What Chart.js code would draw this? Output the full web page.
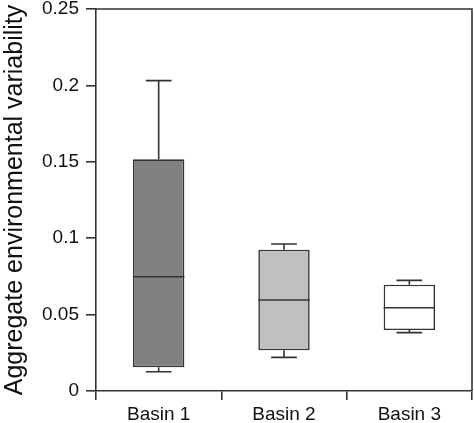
<!DOCTYPE html>
<html>
<head>
<meta charset="utf-8">
<script src="https://cdn.jsdelivr.net/npm/chart.js@4"></script>
<style>
  html, body { margin: 0; padding: 0; background: #fff; }
  #wrap { width: 474px; height: 423px; }
</style>
</head>
<body>
<div id="wrap"><canvas id="boxChart" width="474" height="423"></canvas></div>
<script>
// Datos del diagrama de caja
const categories = ["Basin 1", "Basin 2", "Basin 3"];
const whiskerLow = [0.0126, 0.0220, 0.0382];
const q1 = [0.0155, 0.0266, 0.0399];
const median = [0.0748, 0.0596, 0.0545];
const q3 = [0.1516, 0.0925, 0.0696];
const whiskerHigh = [0.2031, 0.0962, 0.0724];
const boxColors = ["#808080", "#c0c0c0", "#ffffff"];
const yTickLabels = ["0", "0.05", "0.1", "0.15", "0.2", "0.25"];

const lineColor = "#333333";

// Dibuja bigotes, medianas y el marco superior/derecho
const boxPlotPlugin = {
    id: "boxPlot",
    afterDatasetsDraw(chart) {
        const ctx = chart.ctx;
        const yScale = chart.scales.y;
        const bars = chart.getDatasetMeta(0).data;
        ctx.save();
        ctx.strokeStyle = lineColor;
        ctx.lineWidth = 1.6;
        bars.forEach((bar, i) => {
            const x = bar.x;
            const half = bar.width / 2;
            const cap = bar.width / 4;
            const yMin = yScale.getPixelForValue(whiskerLow[i]);
            const yQ1 = yScale.getPixelForValue(q1[i]);
            const yMed = yScale.getPixelForValue(median[i]);
            const yQ3 = yScale.getPixelForValue(q3[i]);
            const yMax = yScale.getPixelForValue(whiskerHigh[i]);
            ctx.beginPath();
            // bigote superior
            ctx.moveTo(x, yQ3);
            ctx.lineTo(x, yMax);
            ctx.moveTo(x - cap, yMax);
            ctx.lineTo(x + cap, yMax);
            // bigote inferior
            ctx.moveTo(x, yQ1);
            ctx.lineTo(x, yMin);
            ctx.moveTo(x - cap, yMin);
            ctx.lineTo(x + cap, yMin);
            // mediana
            ctx.moveTo(x - half, yMed);
            ctx.lineTo(x + half, yMed);
            ctx.stroke();
        });
        // marco
        const a = chart.chartArea;
        ctx.beginPath();
        ctx.moveTo(a.left, a.top);
        ctx.lineTo(a.right, a.top);
        ctx.lineTo(a.right, a.bottom);
        ctx.stroke();
        ctx.restore();
    }
};

const ctx = document.getElementById("boxChart").getContext("2d");
new Chart(ctx, {
    type: "bar",
    data: {
        labels: categories,
        datasets: [{
            label: "Aggregate environmental variability",
            data: categories.map((c, i) => [q1[i], q3[i]]),
            backgroundColor: boxColors,
            borderColor: lineColor,
            borderWidth: 1.6,
            borderSkipped: false,
            categoryPercentage: 1,
            barPercentage: 0.41
        }]
    },
    options: {
        responsive: false,
        animation: false,
        devicePixelRatio: 1,
        layout: { padding: { top: 9, right: 2, left: 0, bottom: 0 } },
        plugins: {
            legend: { display: false },
            tooltip: { enabled: false }
        },
        scales: {
            x: {
                grid: { drawOnChartArea: false, offset: true, tickLength: 9, color: lineColor, lineWidth: 1.6 },
                border: { color: lineColor, width: 1.6 },
                ticks: { color: "#111", padding: 3, font: { family: "Liberation Sans", size: 19 } },
                afterFit(scale) { scale.height = 32; }
            },
            y: {
                min: 0,
                max: 0.25,
                grid: { drawOnChartArea: false, tickLength: 10, color: lineColor, lineWidth: 1.6 },
                border: { color: lineColor, width: 1.6 },
                ticks: {
                    stepSize: 0.05,
                    color: "#111",
                    padding: 7,
                    font: { family: "Liberation Sans", size: 19 },
                    callback: (value, index) => yTickLabels[index]
                },
                title: {
                    display: true,
                    text: "Aggregate environmental variability",
                    color: "#111",
                    padding: { top: 0, bottom: 0 },
                    font: { family: "Liberation Sans", size: 25 }
                },
                afterFit(scale) {
                    scale.width = 96;
                    scale.paddingTop = 0;
                    scale.paddingBottom = 0;
                }
            }
        }
    },
    plugins: [boxPlotPlugin]
});
</script>
</body>
</html>
